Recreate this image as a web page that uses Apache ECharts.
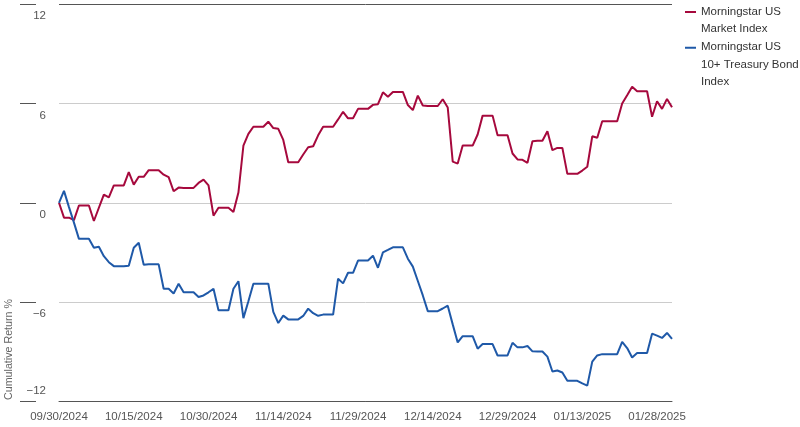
<!DOCTYPE html>
<html>
<head>
<meta charset="utf-8">
<script src="https://cdn.jsdelivr.net/npm/echarts@6/dist/echarts.min.js"></script>
<style>
  html, body { margin: 0; padding: 0; background: #fff; }
  #chart { width: 800px; height: 427px; }
</style>
</head>
<body>
<div id="chart"></div>
<script>
// daily values from 09/30/2024 to 01/31/2025 (weekends held flat)
var marketName = "Morningstar US\nMarket Index";
var bondName = "Morningstar US\n10+ Treasury Bond\nIndex";

var marketIndex = [
  0, -0.9, -0.9, -1.05, -0.16, -0.16, -0.16, -1.1, -0.3, 0.5,
  0.33, 1.05, 1.05, 1.05, 1.85, 1.1, 1.57, 1.57, 1.97, 1.97,
  1.97, 1.7, 1.55, 0.7, 0.92, 0.9, 0.9, 0.9, 1.2, 1.4,
  1.05, -0.78, -0.3, -0.3, -0.3, -0.55, 0.62, 3.45, 4.17, 4.6,
  4.6, 4.6, 4.9, 4.52, 4.47, 3.8, 2.45, 2.45, 2.45, 2.92,
  3.36, 3.42, 4.08, 4.6, 4.6, 4.6, 5.04, 5.5, 5.11, 5.11,
  5.68, 5.68, 5.68, 5.92, 5.96, 6.68, 6.41, 6.7, 6.7, 6.7,
  5.91, 5.6, 6.48, 5.88, 5.85, 5.85, 5.85, 6.26, 5.76, 2.49,
  2.37, 3.46, 3.46, 3.46, 4.13, 5.27, 5.27, 5.27, 4.08, 4.08,
  4.08, 2.98, 2.62, 2.6, 2.42, 3.72, 3.75, 3.75, 4.33, 3.18,
  3.32, 3.32, 1.75, 1.75, 1.75, 1.95, 2.18, 4.02, 3.93, 4.93,
  4.93, 4.93, 4.93, 6.0, 6.5, 7.01, 6.74, 6.74, 6.74, 5.2,
  6.14, 5.68, 6.28, 5.78
];

var bondIndex = [
  0, 0.72, -0.26, -1.2, -2.18, -2.18, -2.18, -2.72, -2.66, -3.23,
  -3.59, -3.83, -3.83, -3.83, -3.81, -2.72, -2.42, -3.75, -3.72, -3.72,
  -3.72, -5.2, -5.2, -5.48, -4.89, -5.41, -5.41, -5.41, -5.69, -5.6,
  -5.41, -5.2, -6.49, -6.49, -6.49, -5.2, -4.74, -6.97, -5.95, -4.89,
  -4.89, -4.89, -4.89, -6.59, -7.27, -6.82, -7.05, -7.05, -7.05, -6.84,
  -6.4, -6.67, -6.83, -6.76, -6.76, -6.76, -4.59, -4.87, -4.23, -4.23,
  -3.49, -3.49, -3.49, -3.2, -3.93, -3.0, -2.85, -2.69, -2.69, -2.69,
  -3.38, -3.86, -4.73, -5.6, -6.55, -6.55, -6.55, -6.39, -6.22, -7.35,
  -8.44, -8.06, -8.06, -8.06, -8.82, -8.54, -8.54, -8.54, -9.23, -9.23,
  -9.23, -8.46, -8.74, -8.74, -8.66, -8.98, -8.99, -8.99, -9.3, -10.2,
  -10.14, -10.26, -10.76, -10.76, -10.76, -10.92, -11.05, -9.6, -9.23, -9.15,
  -9.15, -9.15, -9.15, -8.41, -8.78, -9.35, -9.08, -9.08, -9.08, -7.91,
  -8.03, -8.17, -7.87, -8.23
];

var startDate = [2024, 9, 30];
var yTicks = [-12, -6, 0, 6, 12];

var FONT = "'Liberation Sans', Arial, sans-serif";

function pad(n) { return (n < 10 ? "0" : "") + n; }
var dates = [];
for (var i = 0; i < marketIndex.length; i++) {
  var dt = new Date(Date.UTC(startDate[0], startDate[1] - 1, startDate[2] + i));
  dates.push(pad(dt.getUTCMonth() + 1) + "/" + pad(dt.getUTCDate()) + "/" + dt.getUTCFullYear());
}
function fmtTick(v) { return v < 0 ? "\u2212" + Math.abs(v) : String(v); }

// legend marks: short bar at the height of the first text line
var icon2 = "path://M0,0L0.01,0L0.01,0.01Z M0,7.5H11V9.5H0Z M0,34L0.01,34L0.01,33.99Z";
var icon3 = "path://M0,0L0.01,0L0.01,0.01Z M0,7.5H11V9.5H0Z M0,51L0.01,51L0.01,50.99Z";

var dom = document.getElementById("chart");
var myChart = echarts.init(dom, null, { renderer: "canvas" });

var labelText = { color: "#555", fontFamily: FONT };

var option = {
  animation: false,
  color: ["#a6093d", "#1f59a8"],
  grid: { left: 59, right: 128, top: 4.3, bottom: 25.7 },
  legend: [
    {
      data: [marketName], orient: "vertical", left: 685, top: 3.5, padding: 0,
      icon: icon2, itemWidth: 11, itemHeight: 34,
      textStyle: { fontFamily: FONT, fontSize: 11.5, lineHeight: 17, color: "#333" }
    },
    {
      data: [bondName], orient: "vertical", left: 685, top: 38.5, padding: 0,
      icon: icon3, itemWidth: 11, itemHeight: 51,
      textStyle: { fontFamily: FONT, fontSize: 11.5, lineHeight: 17.5, color: "#333" }
    }
  ],
  xAxis: {
    type: "category",
    data: dates,
    boundaryGap: false,
    axisLine: { onZero: false, lineStyle: { color: "#555", width: 1 } },
    axisTick: { show: false },
    axisLabel: Object.assign({ interval: 14, margin: 10, fontSize: 11.5 }, labelText),
    splitLine: { show: false }
  },
  yAxis: [
    {
      type: "value", position: "left", min: yTicks[0], max: yTicks[yTicks.length - 1], interval: 6,
      axisLine: { show: false },
      axisTick: { show: false },
      axisLabel: Object.assign({
        formatter: function (v) { return v === yTicks[0] ? "" : fmtTick(v); },
        verticalAlign: "top", padding: [6, 0, 0, 0], margin: 13, fontSize: 11.5
      }, labelText),
      splitLine: { lineStyle: { color: ["#555", "#ccc", "#ccc", "#ccc", "#555"], width: 1 } }
    },
    {
      type: "value", position: "left", min: yTicks[0], max: yTicks[yTicks.length - 1], interval: 6,
      offset: 23,
      axisLine: { show: false },
      axisTick: { show: true, length: 16, lineStyle: { color: "#555", width: 1 } },
      axisLabel: { show: false },
      splitLine: { show: false }
    },
    {
      type: "value", position: "left", min: yTicks[0], max: yTicks[yTicks.length - 1], interval: 6,
      axisLine: { show: false },
      axisTick: { show: false },
      axisLabel: Object.assign({
        formatter: function (v) { return v === yTicks[0] ? fmtTick(v) : ""; },
        verticalAlign: "bottom", padding: [0, 0, 4, 0], margin: 13, fontSize: 11.5
      }, labelText),
      splitLine: { show: false }
    }
  ],
  graphic: [
    {
      type: "text", x: 9.5, y: 400, rotation: Math.PI / 2,
      style: {
        text: "Cumulative Return %", fill: "#666", font: "10.7px " + FONT,
        textAlign: "left", textVerticalAlign: "middle"
      }
    }
  ],
  series: [
    {
      name: marketName, type: "line", data: marketIndex, yAxisIndex: 0,
      showSymbol: false, lineStyle: { width: 2 }
    },
    {
      name: bondName, type: "line", data: bondIndex, yAxisIndex: 0,
      showSymbol: false, lineStyle: { width: 2 }
    }
  ]
};
option && "object" == typeof option && myChart.setOption(option, !0);
</script>
</body>
</html>
